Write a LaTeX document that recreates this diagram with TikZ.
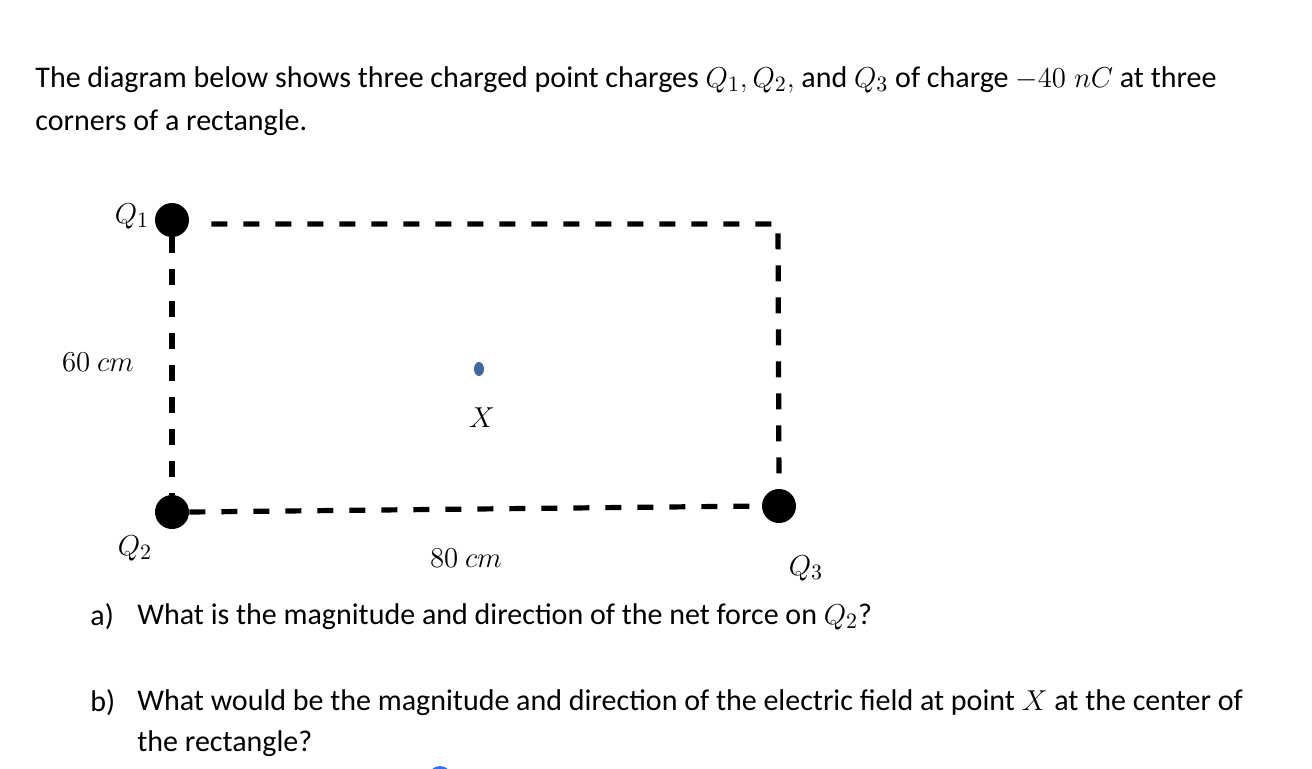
\documentclass[tikz,border=0pt]{standalone}
\usepackage{fontspec}
\setmainfont{Carlito}
\definecolor{dotblue}{HTML}{44689C}
\begin{document}
\begin{tikzpicture}[x=0.5pt,y=-0.5pt,
  txt/.style={anchor=west,inner sep=0pt,font=\fontsize{15}{17}\selectfont},
  lbl/.style={inner sep=0pt,font=\fontsize{15}{17}\selectfont},
  charge/.style={circle,fill=black,minimum size=17pt,inner sep=0pt},
  dline/.style={line width=2.6pt,dash pattern=on 8pt off 8pt}]
\clip (0,0) rectangle (1312,768);
\fill[white] (0,0) rectangle (1312,768);
\node[txt] (t1) at (35,80) {The diagram below shows three charged point charges $Q_1, Q_2,$ and $Q_3$ of charge $-40\;nC$ at three};
\node[txt] (t2) at (35,123) {corners of a rectangle.};
\node[charge] (q1) at (172,220) {};
\node[charge] (q2) at (172,512) {};
\node[charge] (q3) at (779,506) {};
\coordinate (tr) at (778,224);
\draw[dline] (q1.east) ++(22,4) -- (tr) -- (q3.north);
\draw[dline] (q1.south) -- (q2.north);
\draw[dline] (q2.east) -- (q3.west);
\node[lbl] (l1) at (132,216) {$Q_1$};
\node[lbl] (l60) at (98,362) {$60\ cm$};
\fill[dotblue] (479,369) ellipse (5 and 7);
\node[lbl] (lx) at (482,418) {$X$};
\node[lbl] (l2) at (135,548) {$Q_2$};
\node[lbl] (l80) at (466,558) {$80\ cm$};
\node[lbl] (l3) at (806,568) {$Q_3$};
\node[txt] (a) at (90,617) {a)};
\node[txt] (aq) at (137,617) {What is the magnitude and direction of the net force on $Q_2$?};
\node[txt] (b) at (90,703) {b)};
\node[txt] (bq) at (137,703) {What would be the magnitude and direction of the electric field at point $X$ at the center of};
\node[txt] (bq2) at (137,744) {the rectangle?};
\fill[blue!70!cyan!80] (440,778) circle (12);
\end{tikzpicture}
\end{document}
